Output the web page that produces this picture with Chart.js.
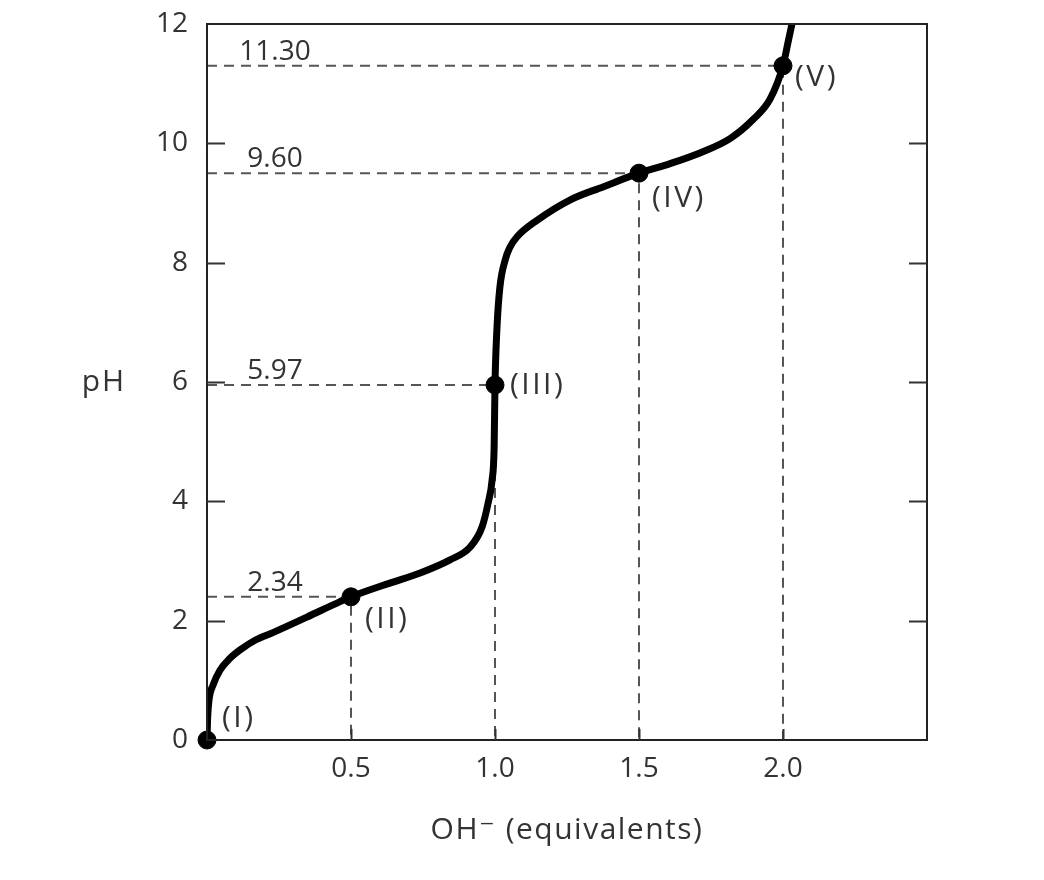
<!DOCTYPE html>
<html>
<head>
<meta charset="utf-8">
<script src="https://cdn.jsdelivr.net/npm/chart.js@4/dist/chart.umd.min.js"></script>
<style>
  html, body { margin: 0; padding: 0; background: #fff; }
  #wrap { width: 1044px; height: 880px; }
</style>
</head>
<body>
<div id="wrap"><canvas id="c" width="1044" height="880"></canvas></div>
<script>
// ---- Data ----
const curveX = [0, 0.002, 0.007, 0.021, 0.045, 0.08, 0.115, 0.17, 0.229, 0.347, 0.462, 0.5, 0.635, 0.74, 0.844, 0.913, 0.955, 0.976, 0.990, 0.997, 1.0, 1.007, 1.017, 1.035, 1.052, 1.076, 1.146, 1.260, 1.375, 1.5, 1.608, 1.722, 1.816, 1.896, 1.955, 2.0, 2.017, 2.031];
const curveY = [0, 0.35, 0.67, 0.92, 1.17, 1.37, 1.51, 1.68, 1.80, 2.06, 2.32, 2.40, 2.63, 2.80, 3.02, 3.23, 3.57, 3.97, 4.36, 4.91, 5.95, 6.92, 7.59, 8.04, 8.26, 8.43, 8.71, 9.05, 9.27, 9.50, 9.66, 9.86, 10.08, 10.40, 10.74, 11.30, 11.68, 12.0];
const pointX = [0, 0.5, 1.0, 1.5, 2.0];
const pointY = [0, 2.4, 5.95, 9.5, 11.3];
const pointNames = ['(I)', '(II)', '(III)', '(IV)', '(V)'];
const valueLabels = ['', '2.34', '5.97', '9.60', '11.30'];
const xTickValues = [0.5, 1.0, 1.5, 2.0];
const yTickValues = [0, 2, 4, 6, 8, 10, 12];
const xTitle = 'OH\u207B (equivalents)';
const yTitle = 'pH';

const FONT = '"Open Sans", "DejaVu Sans", sans-serif';
const TXT = '#333';

const curveData = curveX.map((x, i) => ({ x, y: curveY[i] }));
const pointData = pointX.map((x, i) => ({ x, y: pointY[i] }));
const guideSets = [];
for (let i = 1; i < pointX.length; i++) {
  guideSets.push({
    type: 'line',
    data: [{ x: 0, y: pointY[i] }, { x: pointX[i], y: pointY[i] }, { x: pointX[i], y: 0 }],
    borderColor: '#555',
    borderWidth: 2,
    borderDash: [10, 7],
    pointRadius: 0,
    tension: 0,
    fill: false
  });
}

const decorPlugin = {
  id: 'decor',
  afterDatasetsDraw(chart) {
    const { ctx, chartArea: a, scales } = chart;
    const xs = scales.x, ys = scales.y;
    ctx.save();
    ctx.strokeStyle = '#222';
    ctx.lineWidth = 2;
    ctx.strokeRect(a.left, a.top, a.right - a.left, a.bottom - a.top);
    ctx.beginPath();
    yTickValues.forEach(v => {
      if (v === 0 || v === 12) return;
      const py = Math.round(ys.getPixelForValue(v)) + 0.5;
      ctx.moveTo(a.left, py); ctx.lineTo(a.left + 18, py);
      ctx.moveTo(a.right, py); ctx.lineTo(a.right - 18, py);
    });
    xTickValues.forEach(v => {
      const px = Math.round(xs.getPixelForValue(v)) + 0.5;
      ctx.moveTo(px, a.bottom); ctx.lineTo(px, a.bottom - 11);
    });
    ctx.strokeStyle = '#333';
    ctx.lineWidth = 2;
    ctx.stroke();

    ctx.fillStyle = TXT;
    ctx.font = '28px ' + FONT;
    ctx.textAlign = 'center';
    ctx.textBaseline = 'alphabetic';
    for (let i = 1; i < pointY.length; i++) {
      const py = ys.getPixelForValue(pointY[i]);
      ctx.fillText(valueLabels[i], a.left + 68, py - 6);
    }
    ctx.font = '30px ' + FONT;
    const offs = [[15, -22], [14, 23], [15, 0], [13, 25], [12, 12]];
    ctx.textAlign = 'left';
    ctx.textBaseline = 'middle';
    ctx.letterSpacing = '2.5px';
    for (let i = 0; i < pointX.length; i++) {
      const px = xs.getPixelForValue(pointX[i]);
      const py = ys.getPixelForValue(pointY[i]);
      ctx.fillText(pointNames[i], px + offs[i][0], py + offs[i][1]);
    }
    ctx.textAlign = 'center';
    ctx.letterSpacing = '2px';
    ctx.fillText(yTitle, 104, ys.getPixelForValue(6));
    ctx.letterSpacing = '1.5px';
    ctx.fillText(xTitle, (a.left + a.right) / 2, 830);
    ctx.restore();
  }
};

new Chart(document.getElementById('c'), {
  type: 'scatter',
  data: {
    datasets: [
      {
        type: 'scatter',
        data: pointData,
        pointRadius: 9,
        pointHoverRadius: 9,
        backgroundColor: '#000',
        borderColor: '#000',
        clip: false
      },
      {
        type: 'line',
        data: curveData,
        borderColor: '#000',
        borderWidth: 7,
        pointRadius: 0,
        cubicInterpolationMode: 'monotone',
        fill: false
      },
      ...guideSets
    ]
  },
  options: {
    responsive: false,
    animation: false,
    devicePixelRatio: 1,
    layout: { padding: { left: 0, right: 117, top: 24, bottom: 0 } },
    plugins: { legend: { display: false }, tooltip: { enabled: false } },
    scales: {
      x: {
        type: 'linear',
        min: 0, max: 2.5,
        afterFit(s) { s.height = 140; s.paddingLeft = 0; s.paddingRight = 0; },
        afterBuildTicks(s) { s.ticks = xTickValues.map(v => ({ value: v })); },
        grid: { display: false, drawTicks: false },
        border: { display: false },
        ticks: {
          font: { family: FONT, size: 28 },
          color: TXT,
          padding: 12,
          callback: v => Number(v).toFixed(1)
        }
      },
      y: {
        type: 'linear',
        min: 0, max: 12,
        afterFit(s) { s.width = 207; s.paddingTop = 0; s.paddingBottom = 0; },
        afterBuildTicks(s) { s.ticks = yTickValues.map(v => ({ value: v })); },
        grid: { display: false, drawTicks: false },
        border: { display: false },
        ticks: {
          font: { family: FONT, size: 28 },
          color: TXT,
          padding: 19
        }
      }
    }
  },
  plugins: [decorPlugin]
});
</script>
</body>
</html>
